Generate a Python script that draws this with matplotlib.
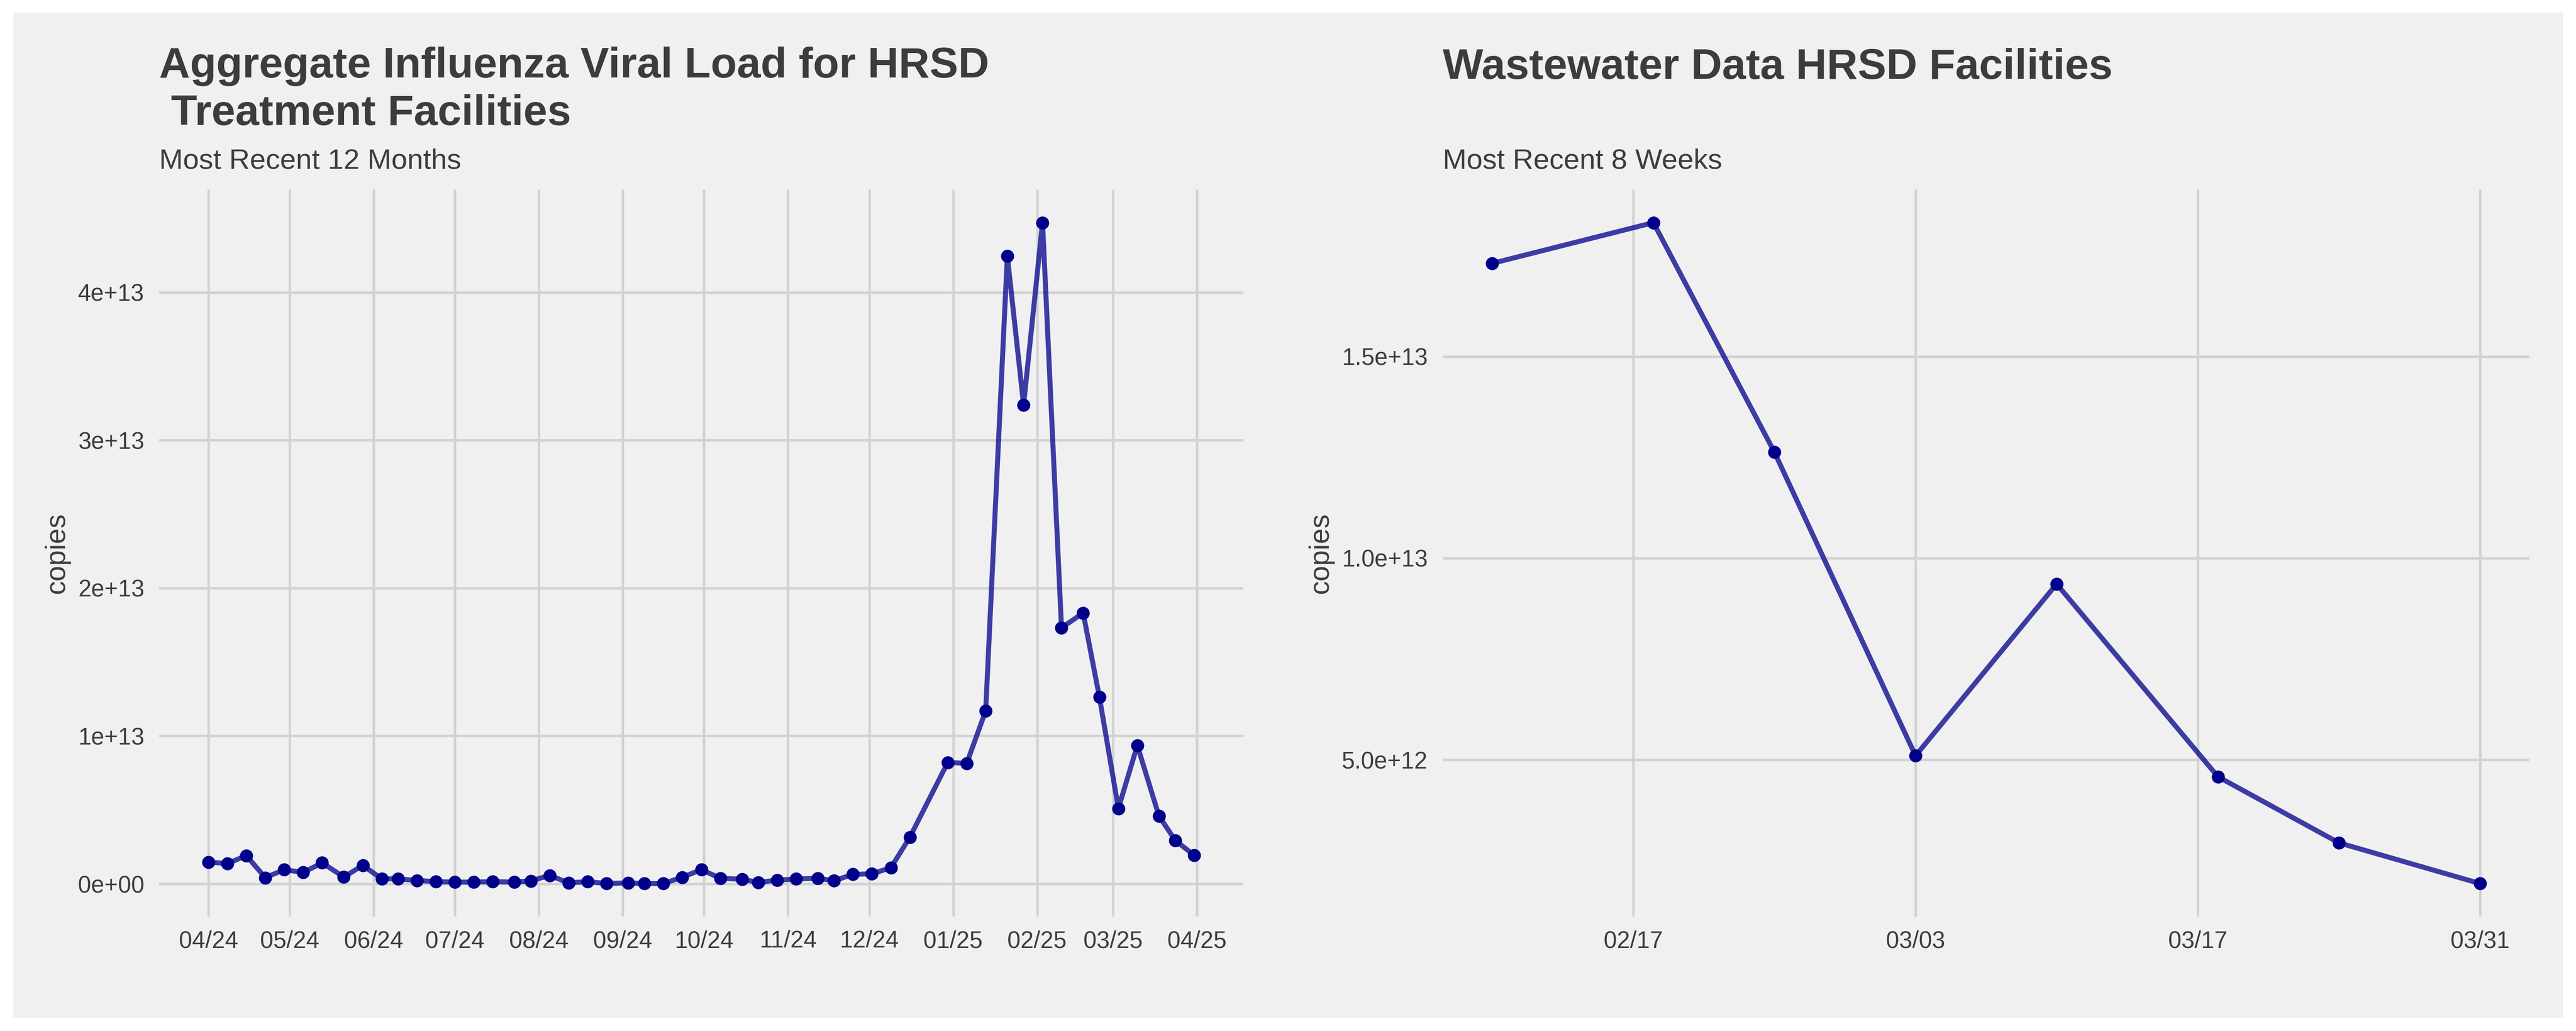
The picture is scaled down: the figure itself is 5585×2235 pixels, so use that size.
import pandas as pd
import matplotlib
matplotlib.use("Agg")
import matplotlib.pyplot as plt
import matplotlib.dates as mdates
from matplotlib.patches import Rectangle
from matplotlib.ticker import MultipleLocator, FuncFormatter

# weekly sample dates and aggregate influenza copies
sample_dates = [
    "2024-04-01", "2024-04-08", "2024-04-15", "2024-04-22", "2024-04-29",
    "2024-05-06", "2024-05-13", "2024-05-21", "2024-05-28",
    "2024-06-04", "2024-06-10", "2024-06-17", "2024-06-24",
    "2024-07-01", "2024-07-08", "2024-07-15", "2024-07-23", "2024-07-29",
    "2024-08-05", "2024-08-12", "2024-08-19", "2024-08-26",
    "2024-09-03", "2024-09-09", "2024-09-16", "2024-09-23", "2024-09-30",
    "2024-10-07", "2024-10-15", "2024-10-21", "2024-10-28",
    "2024-11-04", "2024-11-12", "2024-11-18", "2024-11-25",
    "2024-12-02", "2024-12-09", "2024-12-16", "2024-12-30",
    "2025-01-06", "2025-01-13", "2025-01-21", "2025-01-27",
    "2025-02-03", "2025-02-10", "2025-02-18", "2025-02-24",
    "2025-03-03", "2025-03-10", "2025-03-18", "2025-03-24", "2025-03-31",
]
copies_e12 = [
    1.48, 1.37, 1.91, 0.42, 0.96,
    0.77, 1.42, 0.46, 1.25,
    0.34, 0.34, 0.23, 0.15,
    0.12, 0.12, 0.15, 0.12, 0.20,
    0.57, 0.07, 0.15, 0.02,
    0.07, 0.02, 0.02, 0.45, 0.96,
    0.38, 0.31, 0.10, 0.25,
    0.33, 0.38, 0.21, 0.64,
    0.68, 1.09, 3.15, 8.21,
    8.15, 11.69, 42.46, 32.38,
    44.71, 17.31, 18.32, 12.63,
    5.10, 9.36, 4.58, 2.94, 1.93,
]
recent_weeks = 8
recent_ticks = ["2025-02-17", "2025-03-03", "2025-03-17", "2025-03-31"]

left_title = "Aggregate Influenza Viral Load for HRSD\n Treatment Facilities"
left_subtitle = "Most Recent 12 Months"
right_title = "Wastewater Data HRSD Facilities"
right_subtitle = "Most Recent 8 Weeks"

df = pd.DataFrame({"date": pd.to_datetime(sample_dates),
                   "copies": [v * 1e12 for v in copies_e12]})
recent = df.tail(recent_weeks)

plt.rcParams["font.family"] = ["Liberation Sans", "DejaVu Sans"]

W, H, DPI = 5585, 2235, 300
fig = plt.figure(figsize=(W / DPI, H / DPI), dpi=DPI)
fig.patch.set_facecolor("white")

# grey plot background like theme_fivethirtyeight
bg = Rectangle((29 / W, 1 - 2206 / H), (5557 - 29) / W, (2206 - 27) / H,
               transform=fig.transFigure, facecolor="#F0F0F0",
               edgecolor="none", zorder=-10)
fig.patches.append(bg)

text_col = "#3C3C3C"
grid_col = "#D2D2D2"

bottom = 1 - 1987 / H
height = (1987 - 411) / H
ax1 = fig.add_axes([345 / W, bottom, (2696 - 345) / W, height])
ax2 = fig.add_axes([3128 / W, bottom, (5484 - 3128) / W, height])


def style_axis(ax):
    ax.set_facecolor("none")
    for s in ax.spines.values():
        s.set_visible(False)
    ax.grid(True, color=grid_col, linewidth=1.3)
    ax.set_axisbelow(True)
    ax.tick_params(axis="both", length=0, labelsize=12.3, labelcolor=text_col)
    ax.tick_params(axis="x", pad=7)
    ax.tick_params(axis="y", pad=7.7)
    ax.set_ylabel("copies", fontsize=14.6, color=text_col, labelpad=4)
    ax.margins(x=0.05, y=0.05)


def draw_series(ax, d):
    ax.plot(d["date"], d["copies"], color="#00008B", alpha=0.75,
            linewidth=2.6, solid_capstyle="round", zorder=2)
    ax.plot(d["date"], d["copies"], linestyle="none", marker="o",
            markersize=6.8, color="#00008B", markeredgewidth=0, zorder=3)


# left panel: last 12 months
draw_series(ax1, df)
style_axis(ax1)
ax1.xaxis.set_major_locator(mdates.MonthLocator())
ax1.xaxis.set_major_formatter(mdates.DateFormatter("%m/%y"))
ax1.yaxis.set_major_locator(MultipleLocator(1e13))
ax1.yaxis.set_major_formatter(FuncFormatter(lambda v, p: f"{v:.0e}"))

# right panel: last 8 weeks
draw_series(ax2, recent)
style_axis(ax2)
ax2.set_xticks(pd.to_datetime(recent_ticks))
ax2.xaxis.set_major_formatter(mdates.DateFormatter("%m/%d"))
ax2.yaxis.set_major_locator(MultipleLocator(5e12))
ax2.yaxis.set_major_formatter(FuncFormatter(lambda v, p: f"{v:.1e}"))

# titles and subtitles
title_y = 1 - 171 / H
title2_y = 1 - 271 / H
sub_y = 1 - 365 / H
fig.text(345 / W, title2_y, left_title, fontsize=22.3, fontweight="bold",
         color=text_col, va="baseline", ha="left", linespacing=1.26)
fig.text(345 / W, sub_y, left_subtitle, fontsize=14.9, color=text_col,
         va="baseline", ha="left")
fig.text(3128 / W, title_y, right_title, fontsize=22.3, fontweight="bold",
         color=text_col, va="baseline", ha="left")
fig.text(3128 / W, sub_y, right_subtitle, fontsize=14.9, color=text_col,
         va="baseline", ha="left")

fig.savefig("out.png", dpi=DPI)
